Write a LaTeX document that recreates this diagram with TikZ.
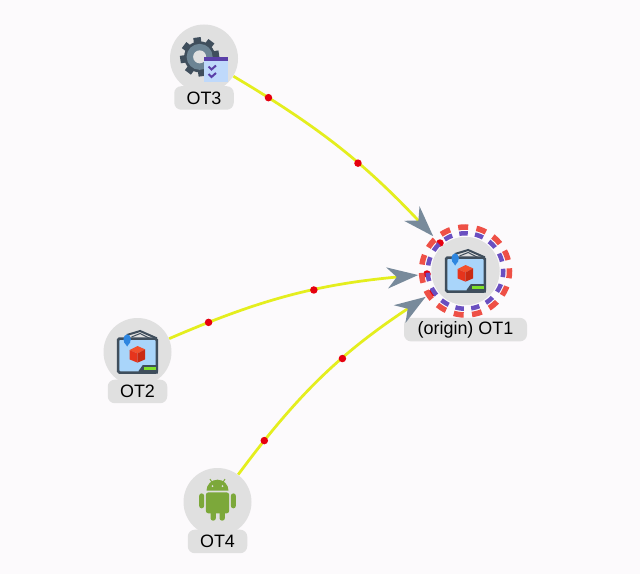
\documentclass[tikz,border=0pt]{standalone}
\usepackage{fontspec}
\setmainfont{Liberation Sans}
\usetikzlibrary{positioning,arrows.meta}
\definecolor{otgray}{HTML}{E0E0E0}
\definecolor{otyellow}{HTML}{E4EE1E}
\definecolor{otarrow}{HTML}{788A9B}
\definecolor{otdot}{HTML}{E6000F}
\definecolor{ringred}{HTML}{EE5046}
\definecolor{ringblue}{HTML}{6A4FC0}
\definecolor{iconline}{HTML}{3F4E5C}
\definecolor{iconblue}{HTML}{A9D5FA}
\definecolor{iconnozzle}{HTML}{2E86E0}
\definecolor{iconled}{HTML}{7FE02A}
\definecolor{cubetop}{HTML}{F2502C}
\definecolor{cubeleft}{HTML}{E6341C}
\definecolor{cuberight}{HTML}{C92A12}
\definecolor{gearring}{HTML}{6C8494}
\definecolor{checkcard}{HTML}{BFD9FB}
\definecolor{droid}{HTML}{7CA83A}
\definecolor{checkpurple}{HTML}{5A3FA8}
\tikzset{
    otnode/.style={circle,fill=otgray,minimum size=1.36cm,inner sep=0pt},
    otorigin/.style={otnode,outer sep=.27cm},
    otlabel/.style={fill=otgray,rounded corners=.14cm,minimum width=1.19cm,minimum height=.47cm,inner sep=0pt,font=\fontsize{10.2}{12}\selectfont},
    otedge/.style={otyellow,line width=.055cm,bend left=10,-{Stealth[length=.62cm,width=.42cm,inset=.19cm,color=otarrow]}},
    edgedot/.style={circle,fill=otdot,minimum size=.15cm,inner sep=0pt},
    printericon/.pic={
        % Arm
            \draw[iconline,line width=.04cm](-.213,.34) -- (.053,.42) -- (.387,.273);
            \draw[iconline,line width=.02cm](-.12,.3) -- (.053,.37) -- (.25,.27);
        % Body
            \draw[iconline,fill=iconblue,line width=.05cm,rounded corners=.03cm](-.39,.27) rectangle (.385,-.41);
            \fill[iconline](.02,-.38) -- (.107,-.26) -- (.407,-.26) -- (.407,-.433) -- (.02,-.433) -- cycle;
            \fill[iconled](.133,-.293) rectangle (.373,-.36);
        % Nozzle
            \fill[iconnozzle](-.207,.253) ellipse (.075 and .1);
            \fill[iconnozzle](-.27,.2) -- (-.207,.11) -- (-.144,.2) -- cycle;
        % Cube
            \fill[cubetop](0,-.03) -- (.153,.053) -- (0,.12) -- (-.16,.04) -- cycle;
            \fill[cubeleft](0,-.03) -- (-.16,.04) -- (-.16,-.147) -- (0,-.213) -- cycle;
            \fill[cuberight](0,-.03) -- (.153,.053) -- (.153,-.147) -- (0,-.213) -- cycle;
    },
    gearicon/.pic={
        % Gear
            \begin{scope}[shift={(-.087,.033)}]
                \foreach \toothangle in {0,45,...,315}
                    \fill[iconline,rotate=\toothangle+8](-.075,.25) rectangle (.075,.39);
                \fill[iconline](0,0) circle (.31);
                \fill[gearring](0,0) circle (.26);
                \fill[otgray](0,0) circle (.13);
            \end{scope}
        % Checklist
            \fill[checkcard](-.007,.02) rectangle (.48,-.467);
            \fill[checkpurple](-.007,.02) rectangle (.48,-.06);
            \draw[checkpurple,line width=.04cm](.09,-.16) -- (.15,-.22) -- (.24,-.14);
            \draw[checkpurple,line width=.04cm](.09,-.31) -- (.15,-.37) -- (.24,-.29);
    },
    droidicon/.pic={
        % Head
            \fill[droid](-.22,.227) arc (180:0:.22) -- cycle;
            \draw[droid,line width=.02cm](-.15,.46) -- (-.09,.36);
            \draw[droid,line width=.02cm](.15,.46) -- (.09,.36);
            \fill[otgray](-.1,.32) circle (.02);
            \fill[otgray](.1,.32) circle (.02);
        % Body
            \fill[droid,rounded corners=.05cm](-.233,.193) rectangle (.233,-.227);
            \fill[droid,rounded corners=.05cm](-.367,.173) rectangle (-.267,-.127);
            \fill[droid,rounded corners=.05cm](.267,.173) rectangle (.367,-.127);
            \fill[droid,rounded corners=.05cm](-.14,-.15) rectangle (-.033,-.373);
            \fill[droid,rounded corners=.05cm](.04,-.15) rectangle (.147,-.373);
    }
}
\begin{document}
\begin{tikzpicture}
        % Background
            \fill[white!98!violet](0,0) rectangle (12.8,11.48);
            \useasboundingbox (0,0) rectangle (12.8,11.48);
        % Nodes
            \node[otnode](ot3) at (4.08,10.31) {};
            \node[otnode](ot2) at (2.75,4.44) {};
            \node[otnode](ot4) at (4.35,1.44) {};
            \node[otorigin](ot1) at (9.31,6.06) {};
            \node[otnode] at (ot1) (ot1disc) {};
        % Labels
            \node[otlabel,below=-.14cm of ot3](ot3label) {OT3};
            \node[otlabel,below=-.14cm of ot2](ot2label) {OT2};
            \node[otlabel,below=-.14cm of ot4](ot4label) {OT4};
            \node[otlabel,minimum width=2.46cm,below=-.02cm of ot1](ot1label) {(origin) OT1};
        % Icons
            \pic at (ot3) {gearicon};
            \pic at (ot2) {printericon};
            \pic at (ot4) {droidicon};
            \pic at (ot1) {printericon};
        % Edges
            \draw[otedge,bend left=8](ot3) to node[edgedot,pos=.145](dot3a) {} node[edgedot,pos=.6](dot3b) {} (ot1);
            \draw[otedge,bend left=9](ot2) to node[edgedot,pos=.15](dot2a) {} node[edgedot,pos=.6](dot2b) {} (ot1);
            \draw[otedge](ot4) to node[edgedot,pos=.15](dot4a) {} node[edgedot,pos=.61](dot4b) {} (ot1);
        % End dots
            \node[edgedot](dot3c) at (8.8,6.62) {};
            \node[edgedot](dot2c) at (8.54,6.0) {};
            \node[edgedot](dot4c) at (8.64,5.62) {};
        % Ring
            \draw[ringred,line width=.11cm,dash pattern=on .2cm off .1686cm,dash phase=.146cm](ot1) circle (.88);
            \draw[ringblue,line width=.09cm,dash pattern=on .17cm off .1463cm,dash phase=.125cm](ot1) circle (.755);
\end{tikzpicture}
\end{document}
